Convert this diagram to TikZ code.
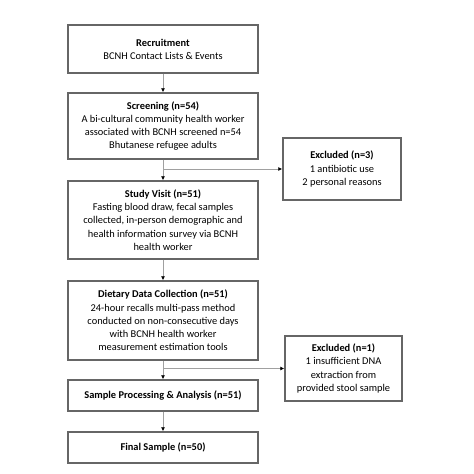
\documentclass[tikz,border=0pt]{standalone}
\usepackage{fontspec}
\setmainfont{Carlito}
\usetikzlibrary{arrows.meta}
\definecolor{boxgray}{HTML}{666666}
\definecolor{linegray}{HTML}{A0A0A0}
\begin{document}
\begin{tikzpicture}[x=1pt,y=-1pt,
  flowbox/.style={draw=boxgray,line width=1.4pt,fill=white,inner sep=0pt,align=center,
    font=\fontsize{10.4}{13.2}\selectfont},
  flowarrow/.style={draw=linegray,line width=0.9pt,-{Latex[length=4pt,width=4pt,color=black]}},
  flowline/.style={draw=linegray,line width=0.9pt}]
\useasboundingbox[fill=white] (0,0) rectangle (474,474);
\node[flowbox,minimum width=190pt,minimum height=48pt] (rec) at (163,49)
  {\textbf{Recruitment}\\BCNH Contact Lists \& Events};
\node[flowbox,minimum width=190pt,minimum height=66pt] (scr) at (163,126)
  {\textbf{Screening (n=54)}\\A bi-cultural community health worker\\associated with BCNH screened n=54\\Bhutanese refugee adults};
\node[flowbox,minimum width=190pt,minimum height=78pt] (vis) at (163,220)
  {\textbf{Study Visit (n=51)}\\Fasting blood draw, fecal samples\\collected, in-person demographic and\\health information survey via BCNH\\health worker};
\node[flowbox,minimum width=190pt,minimum height=79pt] (diet) at (163,320.5)
  {\textbf{Dietary Data Collection (n=51)}\\24-hour recalls multi-pass method\\conducted on non-consecutive days\\with BCNH health worker\\measurement estimation tools};
\node[flowbox,minimum width=190pt,minimum height=31pt] (proc) at (163,395.5)
  {\textbf{Sample Processing \& Analysis (n=51)}};
\node[flowbox,minimum width=190pt,minimum height=31pt] (fin) at (163,447.5)
  {\textbf{Final Sample (n=50)}};
\node[flowbox,minimum width=118pt,minimum height=62pt] (ex1) at (342,169)
  {\textbf{Excluded (n=3)}\\1 antibiotic use\\2 personal reasons};
\node[flowbox,minimum width=117pt,minimum height=65pt] (ex2) at (343.5,368.5)
  {\textbf{Excluded (n=1)}\\1 insufficient DNA\\extraction from\\provided stool sample};
\draw[flowarrow] (rec.south) -- (scr.north);
\draw[flowarrow] (scr.south) -- (vis.north);
\draw[flowarrow] (vis.south) -- (diet.north);
\draw[flowarrow] (diet.south) -- (proc.north);
\draw[flowarrow] (proc.south) -- (fin.north);
\coordinate (b1) at (scr.south |- ex1.west);
\coordinate (b2) at (diet.south |- ex2.west);
\draw[flowarrow] (b1) -- (ex1.west);
\draw[flowarrow] (b2) -- (ex2.west);
\end{tikzpicture}
\end{document}
